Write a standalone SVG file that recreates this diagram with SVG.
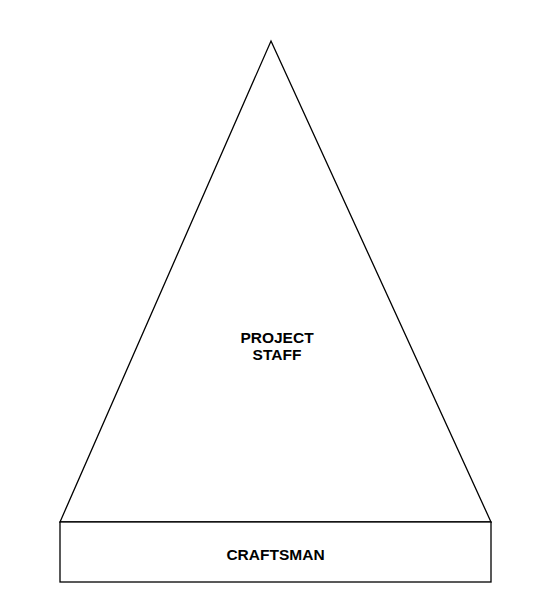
<svg xmlns="http://www.w3.org/2000/svg" width="555" height="600" viewBox="0 0 555 600">
<style>
.shape{fill:#fff;stroke:#000;stroke-width:1.3}
.lbl{font-family:"Liberation Sans",Arial,sans-serif;font-weight:bold;font-size:15.5px;fill:#000;text-anchor:middle}
</style>
<rect width="555" height="600" fill="#fff"/>
<g id="connectors"></g>
<g id="project-staff">
<polygon class="shape" points="271,41 491,522 60,522"/>
<text class="lbl" x="277" y="343">PROJECT</text>
<text class="lbl" x="277" y="360">STAFF</text>
</g>
<g id="craftsman">
<rect class="shape" x="60" y="522" width="431" height="60"/>
<text class="lbl" x="275.5" y="560">CRAFTSMAN</text>
</g>
</svg>
